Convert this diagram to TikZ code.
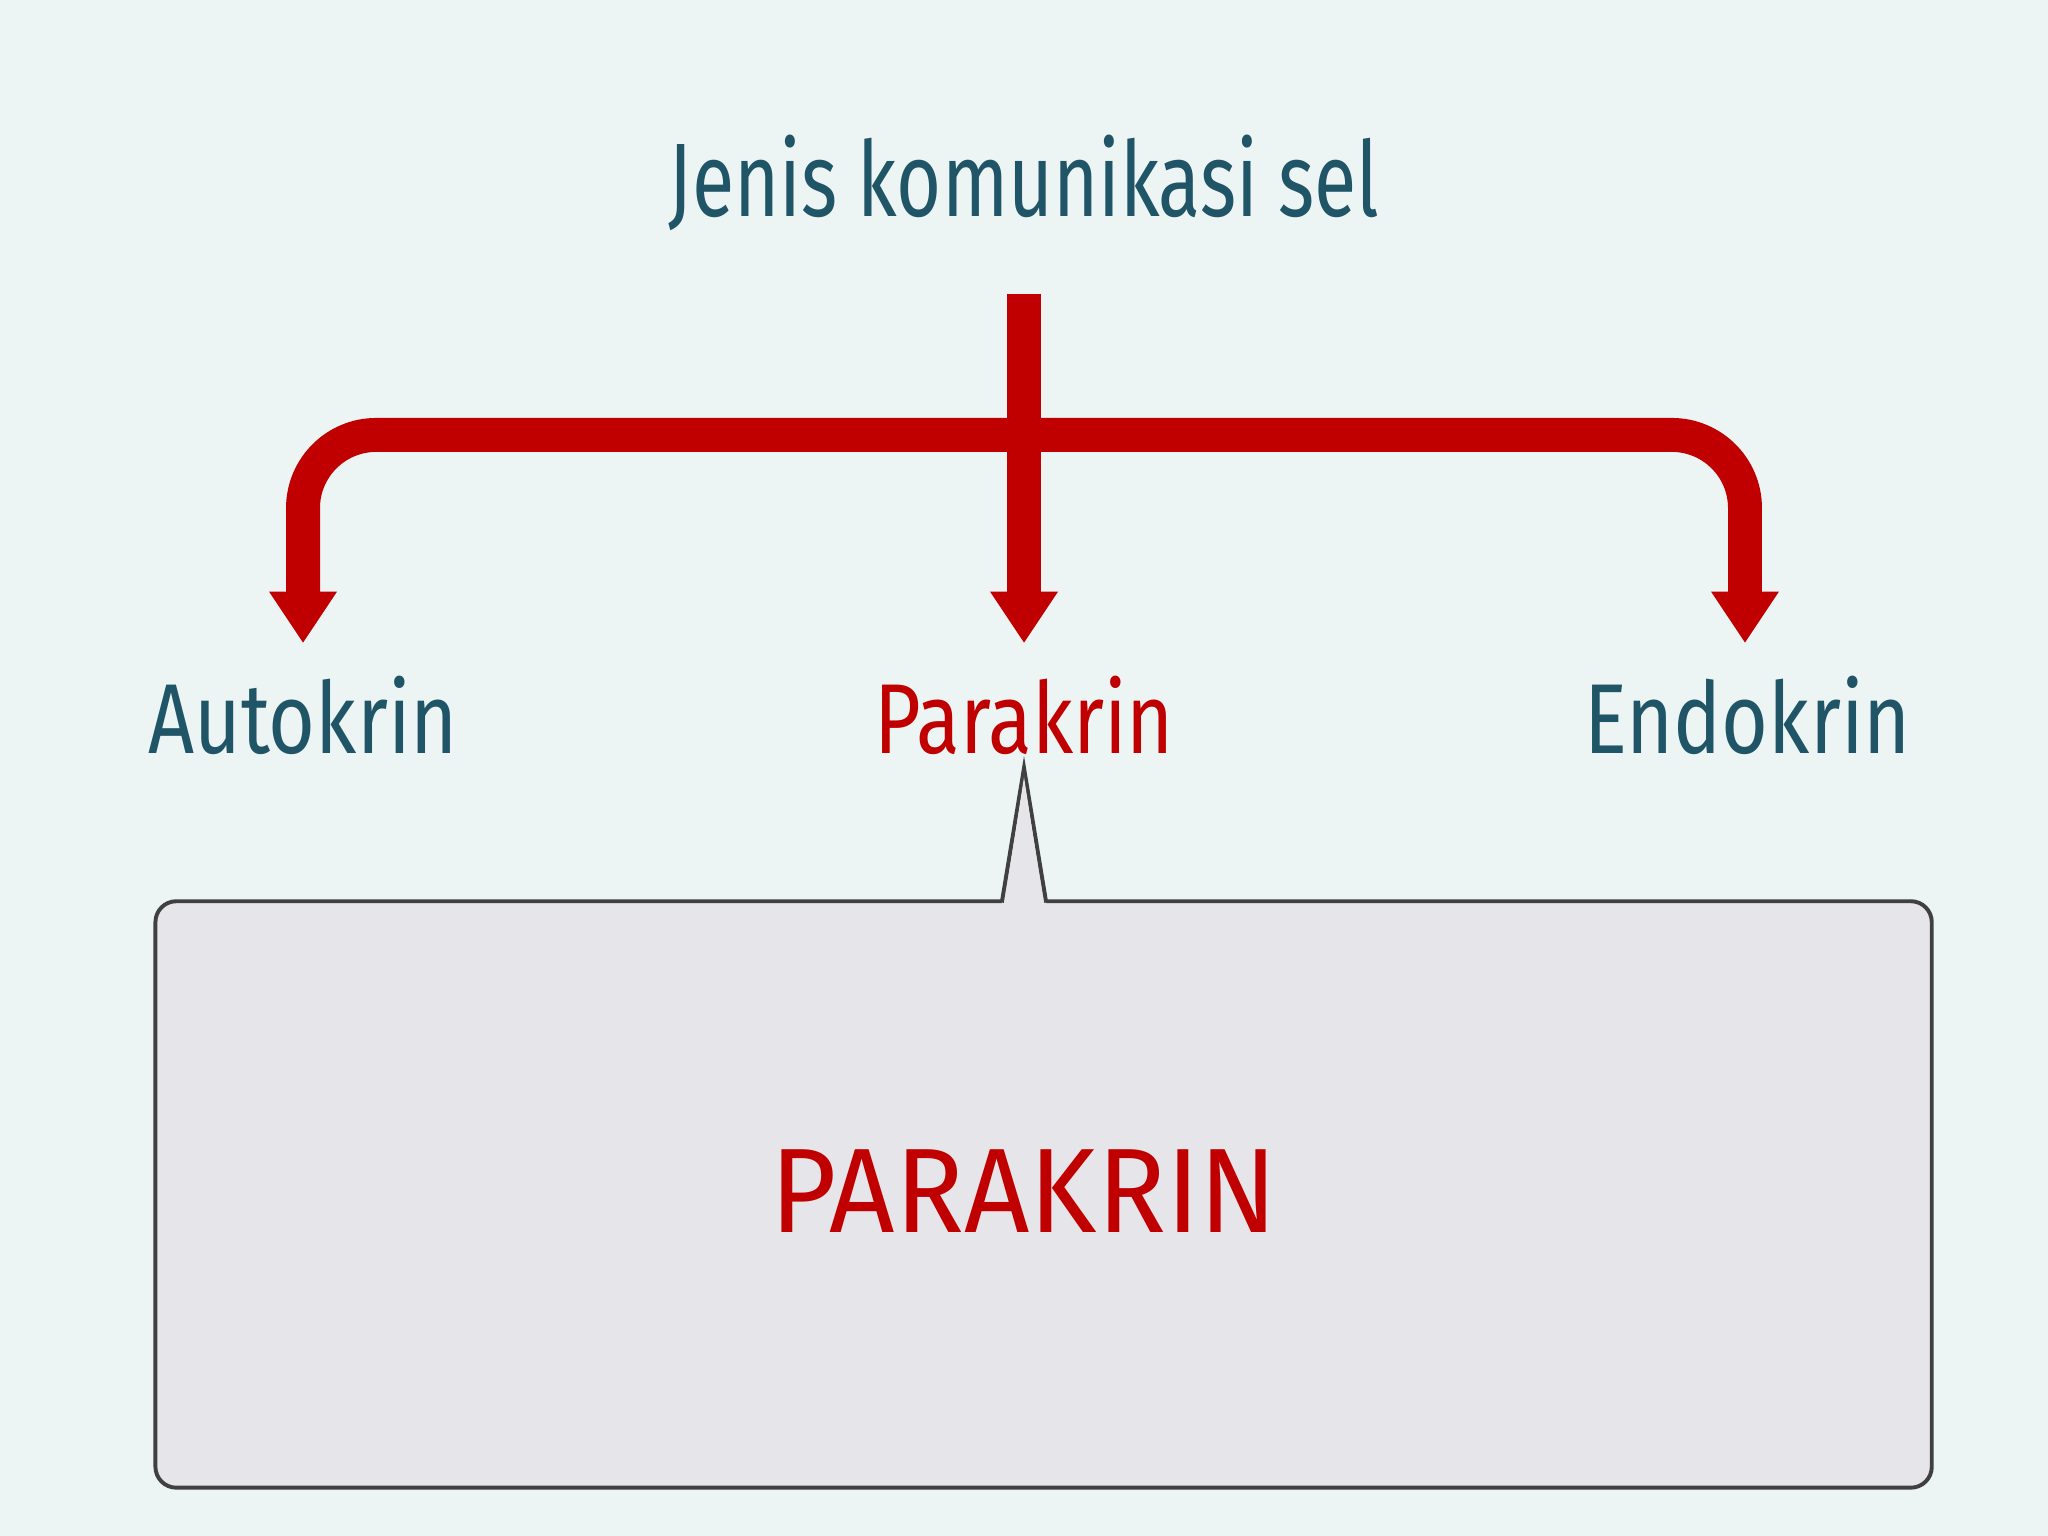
\documentclass[tikz,border=0pt]{standalone}
\usepackage{fontspec}
\usepackage{graphicx}
\setmainfont{Fira Sans}
\definecolor{bg}{HTML}{EDF4F4}
\definecolor{tealt}{HTML}{1F5566}
\definecolor{redd}{HTML}{C00000}
\definecolor{boxf}{HTML}{E6E6EA}
\definecolor{boxd}{HTML}{404040}
\newcommand{\narrow}[2]{\scalebox{#1}[1]{#2}}
\begin{document}
\begin{tikzpicture}[x=0.5pt,y=-0.5pt,
  lbl/.style={font=\fontsize{38}{44}\selectfont, text=tealt, inner sep=0},
  bar/.style={draw=redd, line width=13pt},
  head/.style={fill=redd}]
\fill[bg] (0,0) rectangle (1568,1176);
\useasboundingbox (0,0) rectangle (1568,1176);
\node[lbl, font=\fontsize{40}{46}\selectfont] (title) at (784,140) {\narrow{0.74}{Jenis komunikasi sel}};
% brace connector
\coordinate (top) at (784,225);
\coordinate (la) at (232,455);
\coordinate (ma) at (784,455);
\coordinate (ra) at (1336,455);
\draw[bar, rounded corners=28] (la) |- (1336,333) -- (ra);
\draw[bar] (top) -- (ma);
\foreach \x in {232,784,1336}{
  \fill[head] (\x-26,453) -- (\x+26,453) -- (\x,492) -- cycle;
}
\node[lbl] (auto) at (232,548) {\narrow{0.81}{Autokrin}};
\node[lbl, text=redd] (para) at (784,548) {\narrow{0.81}{Parakrin}};
\node[lbl] (endo) at (1338,548) {\narrow{0.81}{Endokrin}};
% callout
\draw[boxd, fill=boxf, line width=1.5pt, rounded corners=8]
  (767,690) -- (119,690) -- (119,1139) -- (1479,1139) -- (1479,690) -- (801,690);
\draw[boxd, fill=boxf, line width=1.5pt] (767,691) -- (784,588) -- (801,691);
\fill[boxf] (769,692) -- (784,595) -- (799,692) -- cycle;
\node[inner sep=0, font=\fontsize{46}{52}\selectfont, text=redd] (big) at (784,912) {\narrow{0.95}{PARAKRIN}};
\end{tikzpicture}
\end{document}
